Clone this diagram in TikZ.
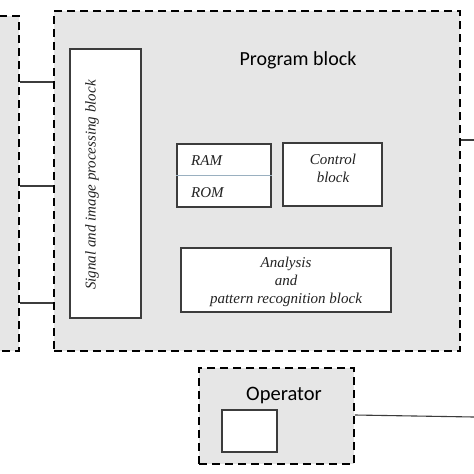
\documentclass[tikz,border=0pt]{standalone}
\usepackage{fontspec}
\setmainfont{Liberation Serif}
\newfontfamily\calfont{Carlito}
\definecolor{panel}{HTML}{E6E6E6}
\definecolor{edge}{HTML}{3C3C3C}
\definecolor{divider}{HTML}{9AB0C0}
\definecolor{ink}{HTML}{222222}
\begin{document}
\begin{tikzpicture}[x=1pt,y=-1pt,
  dashbox/.style={draw=black, fill=panel, line width=1.8pt, dash pattern=on 8pt off 5pt, inner sep=0pt},
  whitebox/.style={draw=edge, fill=white, line width=1.1pt, inner sep=0pt},
  itext/.style={font=\fontsize{15}{17.5}\selectfont\itshape, text=ink, inner sep=0pt, align=center},
  link/.style={draw=edge, line width=1.1pt}]
\useasboundingbox (0,0) rectangle (474,474);
\fill[white] (0,0) rectangle (474,474);
% outer dashed boxes
\node[dashbox, minimum width=30pt, minimum height=335pt] (lb) at (4,183.5) {};
\node[dashbox, minimum width=406pt, minimum height=340pt] (pb) at (257,181) {};
\node[dashbox, minimum width=155pt, minimum height=96pt] (op) at (276.5,416) {};
% titles
\node[font=\calfont\fontsize{20}{24}\selectfont, inner sep=0pt] (pbt) at (298,60) {Program block};
\node[font=\calfont\fontsize{20.5}{24}\selectfont, inner sep=0pt] (opt) at (284,395) {Operator};
% inner boxes
\node[whitebox, minimum width=71pt, minimum height=269pt] (sig) at (105.5,183.5) {};
\node[itext, rotate=90] (sigt) at (92,185) {Signal and image processing block};
\node[whitebox, minimum width=94pt, minimum height=63pt] (mem) at (224,175.5) {};
\draw[divider, line width=0.9pt] (mem.west |- 0,175) -- (mem.east |- 0,175);
\node[itext, anchor=west] (ram) at (191,161) {RAM};
\node[itext, anchor=west] (rom) at (191,193) {ROM};
\node[whitebox, minimum width=99pt, minimum height=63pt] (ctl) at (332.5,174.5) {};
\node[itext] (ctlt) at (333,168.5) {Control\\block};
\node[whitebox, minimum width=210pt, minimum height=64pt] (ana) at (286,280) {};
\node[itext, font=\fontsize{15}{18}\selectfont\itshape] (anat) at (286,282) {Analysis\\and\\pattern recognition block};
\node[whitebox, minimum width=55pt, minimum height=42pt] (inner) at (249.5,431) {};
% connectors
\draw[link] (lb.east |- 0,82) -- (pb.west |- 0,82);
\draw[link] (lb.east |- 0,186) -- (pb.west |- 0,186);
\draw[link] (lb.east |- 0,303) -- (pb.west |- 0,303);
\coordinate (r1) at (474,140);
\draw[link] (pb.east |- r1) -- (r1);
\coordinate (r2) at (474,417);
\draw[link] (op.east |- 0,415) -- (r2);
\end{tikzpicture}
\end{document}
